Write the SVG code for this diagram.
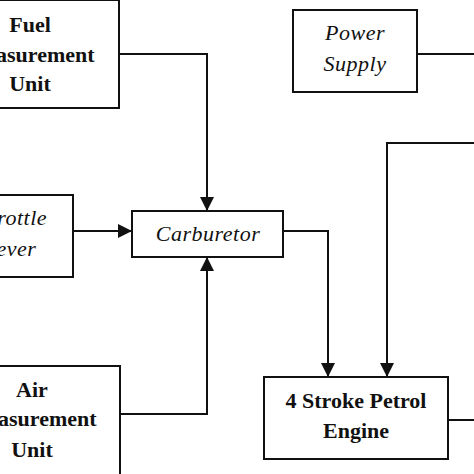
<svg xmlns="http://www.w3.org/2000/svg" width="474" height="474" viewBox="0 0 474 474">
<style>
.box{fill:#fff;stroke:#111;stroke-width:2}
.ln{fill:none;stroke:#111;stroke-width:2}
.b{font-family:"Liberation Serif","Times New Roman",serif;font-weight:bold;font-size:22px;fill:#111;text-anchor:middle}
.i{font-family:"Liberation Serif","Times New Roman",serif;font-style:italic;font-size:22px;fill:#111;text-anchor:middle;letter-spacing:0.5px}
</style>
<defs>
<marker id="ah" viewBox="0 0 10 10" refX="10" refY="5" markerWidth="14" markerHeight="14" markerUnits="userSpaceOnUse" orient="auto">
<path d="M0,0 L10,5 L0,10 Z" fill="#111"/>
</marker>
</defs>
<g id="connectors">
<path class="ln" d="M119,54 H207 V211" marker-end="url(#ah)"/>
<path class="ln" d="M73,231 H132" marker-end="url(#ah)"/>
<path class="ln" d="M120,414 H207 V257" marker-end="url(#ah)"/>
<path class="ln" d="M283,231 H328 V377" marker-end="url(#ah)"/>
<path class="ln" d="M474,143 H387 V377" marker-end="url(#ah)"/>
<path class="ln" d="M417,54 H474"/>
<path class="ln" d="M448,420 H474"/>
</g>
<g id="fuel">
<rect class="box" x="-59" y="0" width="178" height="108"/>
<text class="b" x="30" y="32">Fuel</text>
<text class="b" x="30" y="62">Measurement</text>
<text class="b" x="30" y="91">Unit</text>
</g>
<g id="power">
<rect class="box" x="293" y="10" width="124" height="82"/>
<text class="i" x="355" y="40">Power</text>
<text class="i" x="355" y="71">Supply</text>
</g>
<g id="throttle">
<rect class="box" x="-53" y="195" width="126" height="82"/>
<text class="i" x="10" y="225">Throttle</text>
<text class="i" x="10" y="256">Lever</text>
</g>
<g id="carburetor">
<rect class="box" x="132" y="211" width="151" height="46"/>
<text class="i" x="208" y="241">Carburetor</text>
</g>
<g id="air">
<rect class="box" x="-56" y="366" width="176" height="120"/>
<text class="b" x="32" y="397">Air</text>
<text class="b" x="32" y="426">Measurement</text>
<text class="b" x="32" y="457">Unit</text>
</g>
<g id="engine">
<rect class="box" x="264" y="377" width="184" height="82"/>
<text class="b" x="356" y="408">4 Stroke Petrol</text>
<text class="b" x="356" y="438">Engine</text>
</g>
</svg>
